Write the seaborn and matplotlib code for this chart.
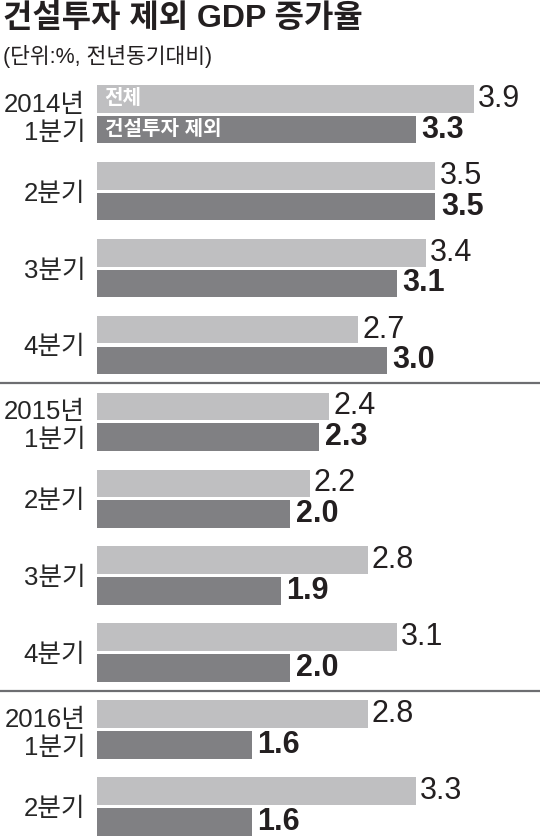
import pandas as pd
import matplotlib.pyplot as plt
import seaborn as sns

# data
keys = ['2014Q1', '2014Q2', '2014Q3', '2014Q4',
        '2015Q1', '2015Q2', '2015Q3', '2015Q4',
        '2016Q1', '2016Q2']
tick_labels = ['2014년\n1분기', '2분기', '3분기', '4분기',
               '2015년\n1분기', '2분기', '3분기', '4분기',
               '2016년\n1분기', '2분기']
total = [3.9, 3.5, 3.4, 2.7, 2.4, 2.2, 2.8, 3.1, 2.8, 3.3]
ex_construction = [3.3, 3.5, 3.1, 3.0, 2.3, 2.0, 1.9, 2.0, 1.6, 1.6]
series = ['전체', '건설투자 제외']

light = '#bfbfc1'
dark = '#808083'

df = pd.DataFrame({
    'key': keys * 2,
    'value': total + ex_construction,
    'series': [series[0]] * len(keys) + [series[1]] * len(keys),
})

sns.set_theme(style='white')
plt.rcParams['font.family'] = ['Liberation Sans', 'Noto Sans CJK KR', 'DejaVu Sans']
plt.rcParams['text.color'] = '#231f20'

fig = plt.figure(figsize=(5.4, 8.36), dpi=100)
ax = fig.add_axes([97 / 540, 0, 443 / 540, 760.2 / 836])

sns.barplot(data=df, x='value', y='key', hue='series', order=keys,
            hue_order=series, palette=[light, dark], orient='h',
            width=0.8, gap=0.1, saturation=1, linewidth=0,
            legend=False, errorbar=None, ax=ax)

ax.set_xlim(0, 443 / 96.7)
ax.set_ylim(9.385, -0.5)
ax.set_xlabel('')
ax.set_ylabel('')
ax.set_xticks([])
ax.set_yticks(range(len(keys)))
ax.set_yticklabels(tick_labels, fontsize=18.5, ha='right', linespacing=1.2)
ax.tick_params(axis='y', length=0, pad=8.5)
for s in ax.spines.values():
    s.set_visible(False)

# value labels
ax.bar_label(ax.containers[0], fmt='%.1f', padding=3, fontsize=22)
ax.bar_label(ax.containers[1], fmt='%.1f', padding=4, fontsize=22, fontweight='bold')

# in-bar legend
ax.text(0.08, -0.2, series[0], color='white', fontsize=14.5, fontweight='bold', va='center')
ax.text(0.08, 0.2, series[1], color='white', fontsize=14.5, fontweight='bold', va='center')

# year separators
for y in [3.5, 7.5]:
    ax.axhline(y, xmin=-97 / 443, xmax=1, color='#6d6e71', lw=1.6, clip_on=False)

fig.text(3 / 540, 1 - 19 / 836, '건설투자 제외 GDP 증가율', fontsize=23,
         fontweight='bold', va='center')
fig.text(3 / 540, 1 - 57 / 836, '(단위:%, 전년동기대비)', fontsize=15.5, va='center')

fig.savefig('out.png', dpi=100)
